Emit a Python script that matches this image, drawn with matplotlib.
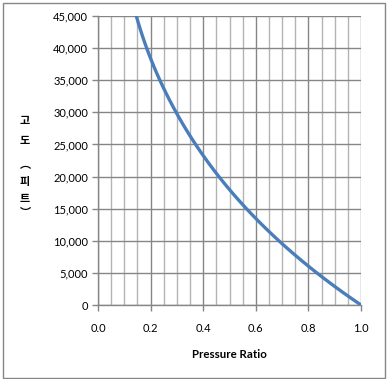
import matplotlib
matplotlib.use("Agg")
import matplotlib.pyplot as plt
from matplotlib.ticker import MultipleLocator, FuncFormatter
from matplotlib.patches import Rectangle

# Altitude (ft) and pressure ratio (standard atmosphere)
altitude_ft = [0, 1000, 2000, 3000, 4000, 5000, 6000, 7000, 8000, 9000,
               10000, 11000, 12000, 13000, 14000, 15000, 16000, 17000, 18000, 19000,
               20000, 21000, 22000, 23000, 24000, 25000, 26000, 27000, 28000, 29000,
               30000, 31000, 32000, 33000, 34000, 35000, 36000, 37000, 38000, 39000,
               40000, 41000, 42000, 43000, 44000, 45000]
pressure_ratio = [1.0000, 0.9644, 0.9298, 0.8962, 0.8637, 0.8320, 0.8014, 0.7716, 0.7428, 0.7148,
                  0.6877, 0.6614, 0.6360, 0.6113, 0.5875, 0.5643, 0.5420, 0.5203, 0.4994, 0.4791,
                  0.4595, 0.4406, 0.4223, 0.4047, 0.3876, 0.3711, 0.3552, 0.3398, 0.3250, 0.3107,
                  0.2970, 0.2837, 0.2709, 0.2586, 0.2467, 0.2353, 0.2243, 0.2138, 0.2038, 0.1942,
                  0.1851, 0.1764, 0.1681, 0.1603, 0.1527, 0.1456]
x_label = "Pressure Ratio"
y_label_chars = ["고", "도", "︵", "피", "트", "︶"]

plt.rcParams['font.family'] = ['Lato', 'Noto Sans CJK KR', 'DejaVu Sans']

W, H = 388, 379
fig = plt.figure(figsize=(W / 100, H / 100), dpi=100)
fig.patch.set_facecolor("white")

# outer chart border
fig.add_artist(Rectangle((2.5 / W, 1 - 377.5 / H), (385 - 2.5) / W, (377.5 - 2.5) / H,
                         transform=fig.transFigure, fill=False, edgecolor="#868686",
                         linewidth=1.0))

left, right, top, bottom = 98 / W, 361 / W, 16 / H, 305 / H
ax = fig.add_axes([left, 1 - bottom, right - left, bottom - top])

ax.plot(pressure_ratio, altitude_ft, color="#4A7EBB", linewidth=2.4,
        solid_capstyle="round", zorder=3)

ax.set_xlim(0, 1.0)
ax.set_ylim(0, 45000)
ax.xaxis.set_major_locator(MultipleLocator(0.2))
ax.xaxis.set_minor_locator(MultipleLocator(0.05))
ax.yaxis.set_major_locator(MultipleLocator(5000))
ax.xaxis.set_major_formatter(FuncFormatter(lambda v, p: f"{v:.1f}"))
ax.yaxis.set_major_formatter(FuncFormatter(lambda v, p: f"{v:,.0f}"))

ax.grid(which="major", axis="both", color="#868686", linewidth=1.0, zorder=1)
ax.grid(which="minor", axis="x", color="#b3b3b3", linewidth=1.0, zorder=1)
ax.set_axisbelow(True)

for s in ["top", "right"]:
    ax.spines[s].set_visible(False)
for s in ["left", "bottom"]:
    ax.spines[s].set_color("#868686")
    ax.spines[s].set_linewidth(1.0)

ax.tick_params(axis="both", which="major", direction="out", length=4, width=1.0,
               color="#868686", labelsize=8, labelcolor="black")
ax.tick_params(axis="x", which="minor", length=0)
ax.tick_params(axis="x", which="major", pad=9)
ax.tick_params(axis="y", which="major", pad=3)

ax.set_xlabel(x_label, fontsize=8.3, fontweight="bold", labelpad=11)

# stacked vertical y label
y_positions = [120, 140, 165, 182, 199, 212]
for ch, yp in zip(y_label_chars, y_positions):
    fig.text(25 / W, 1 - yp / H, ch, ha="center", va="center", fontsize=8,
             fontweight="bold", family=['Noto Sans CJK KR', 'DejaVu Sans'])

fig.savefig("out.png", dpi=100, facecolor="white")
